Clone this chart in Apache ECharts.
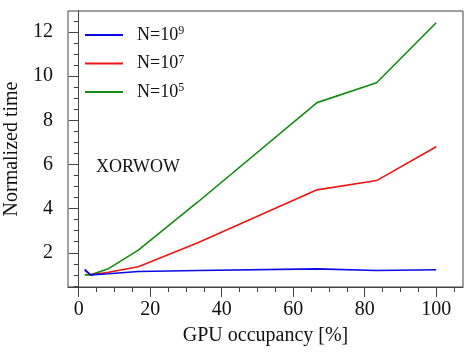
<!DOCTYPE html>
<html><head><meta charset="utf-8">
<script src="https://cdn.jsdelivr.net/npm/echarts@6/dist/echarts.min.js"></script>
<style>html,body{margin:0;padding:0;background:#fff}#c{width:474px;height:355px}</style>
</head><body><div id="c"></div>
<script>
const occupancy = [1.67, 3.33, 8.33, 16.67, 33.33, 66.67, 83.33, 100];
const n1e9 = [1.25, 1.0, 1.05, 1.15, 1.2, 1.27, 1.2, 1.23];
const n1e7 = [1.2, 1.0, 1.12, 1.37, 2.45, 4.85, 5.27, 6.8];
const n1e5 = [1.0, 1.0, 1.28, 2.12, 4.3, 8.8, 9.7, 12.42];
const seriesNames = ['N=10^9', 'N=10^7', 'N=10^5'];
const xTicks = [0, 20, 40, 60, 80, 100];
const xMinor = [5, 10, 15, 25, 30, 35, 45, 50, 55, 65, 70, 75, 85, 90, 95, 105];
const yTicks = [2, 4, 6, 8, 10, 12];
const yMinor = [0.5, 1, 1.5, 2.5, 3, 3.5, 4.5, 5, 5.5, 6.5, 7, 7.5, 8.5, 9, 9.5, 10.5, 11, 11.5, 12.5];
const annotation = 'XORWOW';

const serif = '"Liberation Serif", "DejaVu Serif", serif';
const colors = ['#0a0ae6', '#ee1515', '#148a14'];
const pairs = ys => occupancy.map((x, i) => [x, ys[i]]);
const allSeries = [n1e9, n1e7, n1e5];

const chart = echarts.init(document.getElementById('c'));
const X0 = -3, X1 = 107.5, Y0 = 0.45, Y1 = 12.95;
chart.setOption({
  animation: false,
  backgroundColor: '#fff',
  grid: { left: 68, right: 11, top: 11, bottom: 68, show: true, borderColor: '#444', borderWidth: 1, outerBoundsMode: 'none', containLabel: false },
  title: { text: annotation, left: 96, top: 158, padding: 0, textStyle: { fontFamily: serif, fontSize: 18, fontWeight: 'normal', color: '#111' } },
  legend: {
    orient: 'vertical', left: 85, top: 25, padding: 0, itemWidth: 38, itemHeight: 2, itemGap: 8.5,
    icon: 'rect',
    data: seriesNames.map((n, i) => ({ name: n, itemStyle: { color: colors[i] } })),
    formatter: name => { const p = name.split('^'); return '{b|' + p[0] + '}{s|' + p[1] + '}'; },
    textStyle: {
      padding: [0, 0, 0, 9],
      rich: {
        b: { fontFamily: serif, fontSize: 18, color: '#111', lineHeight: 20 },
        s: { fontFamily: serif, fontSize: 12, color: '#111', verticalAlign: 'top', lineHeight: 20, padding: [0, 0, 8, 0] }
      }
    }
  },
  xAxis: [
    {
      type: 'value', min: X0, max: X1, position: 'bottom',
      name: 'GPU occupancy [%]', nameLocation: 'middle', nameGap: 39,
      nameTextStyle: { fontFamily: serif, fontSize: 20, color: '#111' },
      axisLine: { show: true, lineStyle: { color: '#444', width: 1 } },
      axisTick: { show: true, customValues: xTicks, length: 10, lineStyle: { color: '#444' } },
      axisLabel: { customValues: xTicks, fontFamily: serif, fontSize: 20, color: '#111', margin: 13 },
      splitLine: { show: false }
    },
    {
      type: 'value', min: X0, max: X1, position: 'bottom', gridIndex: 0,
      axisLine: { show: false },
      axisTick: { show: true, customValues: xMinor, length: 5, lineStyle: { color: '#444' } },
      axisLabel: { show: false, customValues: xMinor },
      splitLine: { show: false }
    }
  ],
  yAxis: [
    {
      type: 'value', min: Y0, max: Y1, position: 'left',
      name: 'Normalized time', nameLocation: 'middle', nameGap: 35,
      nameTextStyle: { fontFamily: serif, fontSize: 20, color: '#111' },
      axisLine: { show: true, lineStyle: { color: '#444', width: 1 } },
      axisTick: { show: true, customValues: yTicks, length: 10, lineStyle: { color: '#444' } },
      axisLabel: { customValues: yTicks, fontFamily: serif, fontSize: 20, color: '#111', margin: 15 },
      splitLine: { show: false }
    },
    {
      type: 'value', min: Y0, max: Y1, position: 'left', gridIndex: 0,
      axisLine: { show: false },
      axisTick: { show: true, customValues: yMinor, length: 5, lineStyle: { color: '#444' } },
      axisLabel: { show: false, customValues: yMinor },
      splitLine: { show: false }
    }
  ],
  series: allSeries.map((ys, i) => ({
    name: seriesNames[i], type: 'line', data: pairs(ys), xAxisIndex: 0, yAxisIndex: 0,
    showSymbol: false, symbol: 'none', lineStyle: { color: colors[i], width: 1.6 },
    itemStyle: { color: colors[i] }, z: 3 - i
  }))
});
</script></body></html>
